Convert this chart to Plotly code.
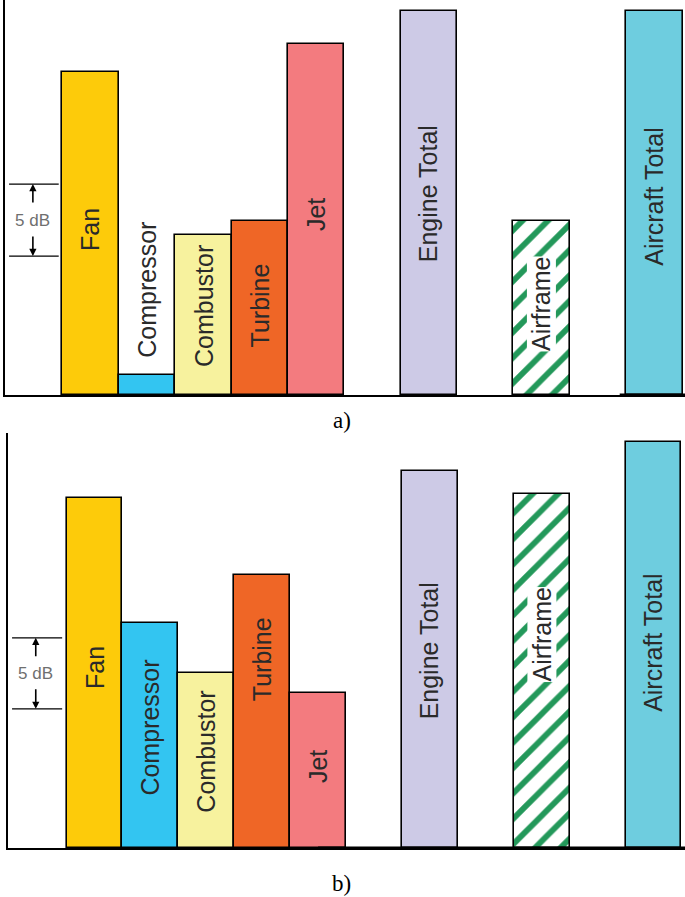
import plotly.graph_objects as go

# ---------------- data ----------------
components = ["Fan", "Compressor", "Combustor", "Turbine", "Jet",
              "Engine Total", "Airframe", "Aircraft Total"]
# relative noise levels (dB above chart baseline)
levels_a = [22.4, 1.4, 11.1, 12.1, 24.4, 26.7, 12.1, 26.7]
levels_b = [24.6, 15.8, 12.3, 19.2, 10.9, 26.5, 24.9, 28.6]
# label centre heights (dB) for the rotated bar labels
label_y_a = [11.5, 7.3, 6.2, 6.2, 12.5, 14.0, 6.3, 13.8]
label_y_b = [12.7, 8.5, 6.8, 13.3, 5.7, 13.9, 15.0, 14.4]
# scale reference bracket (dB) : lower and upper lines, 5 dB apart
ref_a = [9.65, 14.65]
ref_b = [9.79, 14.79]
panel_labels = ["a)", "b)"]

# ---------------- styles ----------------
slot_order = ["Fan", "Compressor", "Combustor", "Turbine", "Jet", " ",
              "Engine Total", "  ", "Airframe", "   ", "Aircraft Total"]
colors = {"Fan": "#FDCB0A", "Compressor": "#33C5F1", "Combustor": "#F7F29E",
          "Turbine": "#EF6626", "Jet": "#F37B7F", "Engine Total": "#CDCAE6",
          "Airframe": "#FFFFFF", "Aircraft Total": "#6ECDDF"}
label_font = dict(family="Liberation Sans, Arial, sans-serif", size=25, color="#2a2a2a")

fig = go.Figure()

for lev, ax in [(levels_a, ("x", "y")), (levels_b, ("x2", "y2"))]:
    solid = [(c, v) for c, v in zip(components, lev) if c != "Airframe"]
    fig.add_trace(go.Bar(
        x=[c for c, _ in solid], y=[v for _, v in solid], xaxis=ax[0], yaxis=ax[1],
        width=1.0,
        marker=dict(color=[colors[c] for c, _ in solid], line=dict(color="black", width=1.6)),
        hoverinfo="skip", showlegend=False))
    hatched = [(c, v) for c, v in zip(components, lev) if c == "Airframe"]
    fig.add_trace(go.Bar(
        x=[c for c, _ in hatched], y=[v for _, v in hatched], xaxis=ax[0], yaxis=ax[1],
        width=1.0,
        marker=dict(color="white", line=dict(color="black", width=1.6),
                    pattern=dict(shape="/", fgcolor="#23985A", bgcolor="white",
                                 fgopacity=1, size=18, solidity=0.32)),
        hoverinfo="skip", showlegend=False))

axis_common = dict(showgrid=False, zeroline=False, ticks="", showticklabels=False,
                   showline=True, linecolor="black", linewidth=1.6)
fig.update_layout(
    width=685, height=897,
    margin=dict(l=0, r=0, t=0, b=0),
    paper_bgcolor="white", plot_bgcolor="white",
    bargap=0, barmode="overlay",
    xaxis=dict(domain=[5/685, 1], type="category", categoryorder="array",
               categoryarray=slot_order, range=[-1.516, 10.541], anchor="y", **axis_common),
    yaxis=dict(domain=[1-395/897, 1], range=[0, 27.43], anchor="x", **axis_common),
    xaxis2=dict(domain=[8/685, 1], type="category", categoryorder="array",
                categoryarray=slot_order, range=[-1.547, 10.563], anchor="y2", **axis_common),
    yaxis2=dict(domain=[1-848/897, 1-433/897], range=[0, 29.2], anchor="x2", **axis_common),
)

annotations = []
shapes = []
for (xr, yr, labels_y, ref, dom) in [("x", "y", label_y_a, ref_a, (0.006, 0.079, 0.041)),
                                     ("x2", "y2", label_y_b, ref_b, (0.006, 0.080, 0.041))]:
    for name, ly in zip(components, labels_y):
        annotations.append(dict(
            x=name, y=ly, xref=xr, yref=yr, text=name, textangle=-90,
            xanchor="center", yanchor="middle",
            showarrow=False, font=label_font,
            bgcolor="white" if name == "Airframe" else None, borderpad=0))
    # 5 dB bracket lines
    for yv in ref:
        shapes.append(dict(type="line", xref=f"{xr} domain", yref=yr,
                           x0=dom[0], x1=dom[1], y0=yv, y1=yv,
                           line=dict(color="black", width=1.3)))
    # arrows
    annotations.append(dict(x=dom[2], y=ref[1], xref=f"{xr} domain", yref=yr,
                            text="", showarrow=True, ax=0, ay=20, axref="pixel", ayref="pixel",
                            arrowhead=2, arrowsize=0.9, arrowwidth=1.6, arrowcolor="black", standoff=0))
    annotations.append(dict(x=dom[2], y=ref[0], xref=f"{xr} domain", yref=yr,
                            text="", showarrow=True, ax=0, ay=-21, axref="pixel", ayref="pixel",
                            arrowhead=2, arrowsize=0.9, arrowwidth=1.6, arrowcolor="black", standoff=0))
    annotations.append(dict(x=dom[2], y=(ref[0]+ref[1])/2, xref=f"{xr} domain", yref=yr,
                            text="5 dB", showarrow=False, xanchor="center", yanchor="middle",
                            font=dict(family="Liberation Sans, Arial, sans-serif", size=17, color="#6f6f6f")))

# heavier baseline segments seen in the original
shapes.append(dict(type="line", xref="x domain", yref="y domain", x0=0.904, x1=1, y0=0, y1=0,
                   line=dict(color="black", width=3)))
shapes.append(dict(type="line", xref="x2 domain", yref="y2 domain", x0=0.458, x1=1, y0=0, y1=0,
                   line=dict(color="black", width=3)))

# panel captions
annotations.append(dict(x=342/685, y=1-420/897, xref="paper", yref="paper", text=panel_labels[0],
                        showarrow=False, xanchor="center", yanchor="middle",
                        font=dict(family="Liberation Serif, Times New Roman, serif", size=23, color="black")))
annotations.append(dict(x=341/685, y=1-883/897, xref="paper", yref="paper", text=panel_labels[1],
                        showarrow=False, xanchor="center", yanchor="middle",
                        font=dict(family="Liberation Serif, Times New Roman, serif", size=23, color="black")))

fig.update_layout(annotations=annotations, shapes=shapes)
fig.write_html("out.html", config={"displayModeBar": False},
               post_script="document.body.style.margin='0';document.body.style.overflow='hidden';")
